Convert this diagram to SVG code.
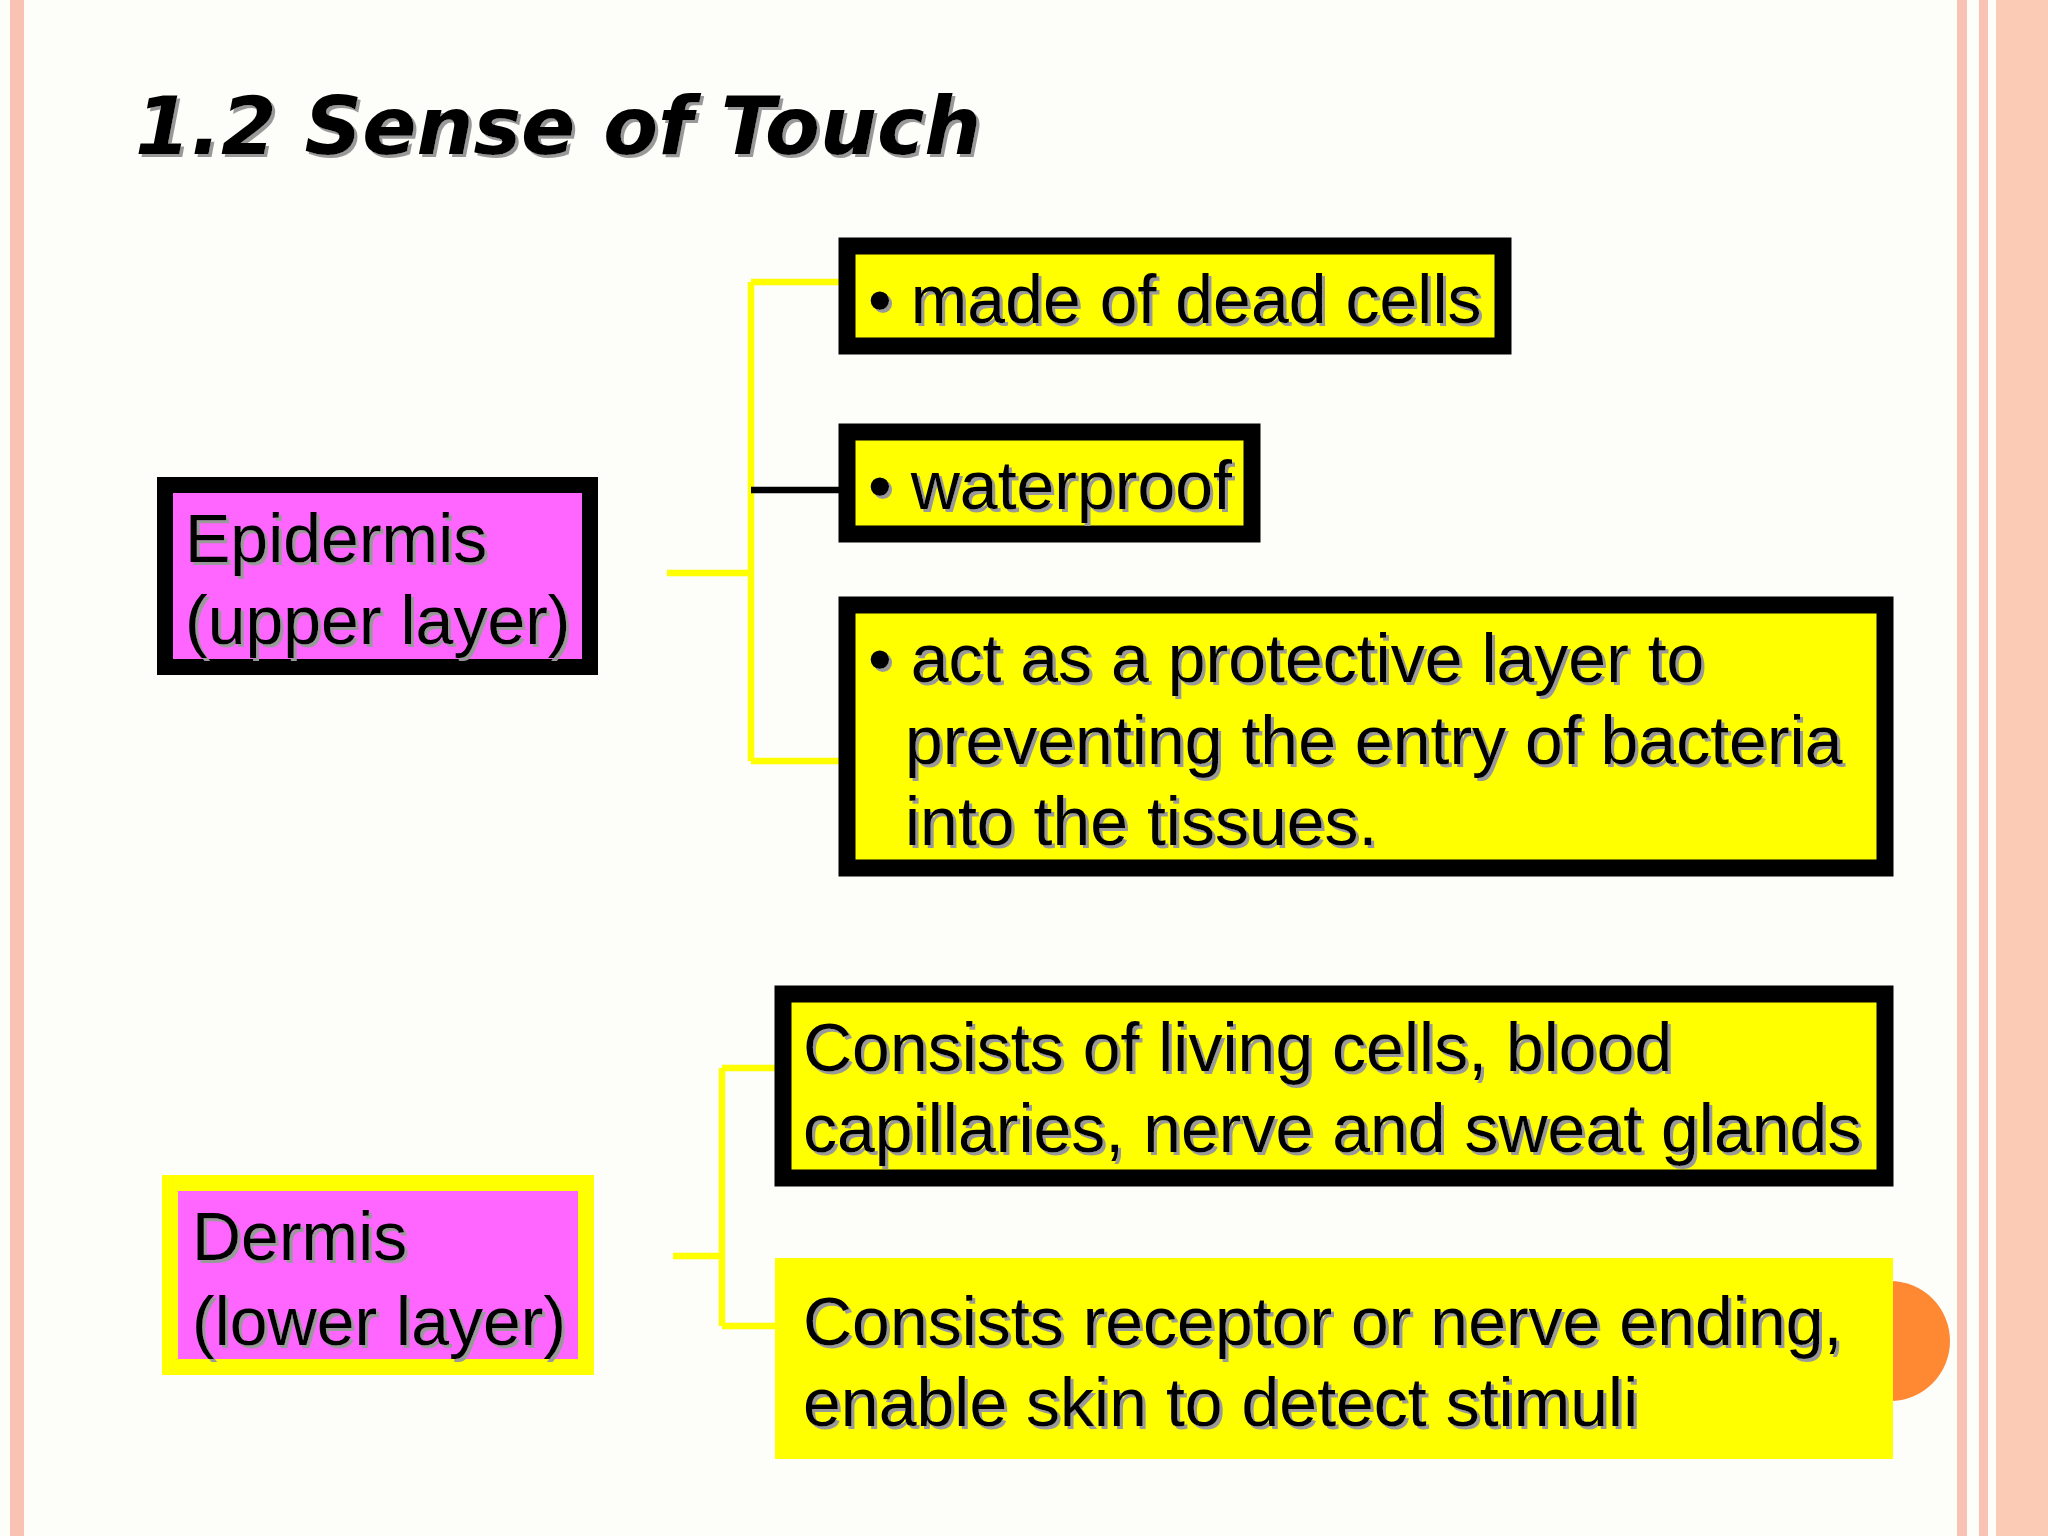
<svg xmlns="http://www.w3.org/2000/svg" width="2048" height="1536" viewBox="0 0 2048 1536">
<defs>
<filter id="sh" x="-5%" y="-20%" width="110%" height="140%"><feDropShadow dx="3" dy="3" stdDeviation="0.5" flood-color="#999"/></filter>
<style>
.t{font-family:"Liberation Sans",Arial,sans-serif;font-size:68px;fill:#000;filter:url(#sh)}
.c{stroke:#ffff00;stroke-width:6.5;fill:none}
.bx{fill:#ffff00;stroke:#000;stroke-width:17}
</style>
</defs>
<rect width="2048" height="1536" fill="#fdfdf9"/>
<rect x="10" y="0" width="14" height="1536" fill="#f9c3b3"/>
<rect x="1957" y="0" width="10" height="1536" fill="#f9c3b3"/>
<rect x="1979" y="0" width="9" height="1536" fill="#f9c3b3"/>
<rect x="1996" y="0" width="52" height="1536" fill="#fbcbb5"/>
<text x="135" y="154" font-family="Verdana,'DejaVu Sans',sans-serif" font-weight="bold" font-style="italic" font-size="80" filter="url(#sh)">1.2  Sense of Touch</text>
<g id="connectors">
<path class="c" d="M667 573H751M751 282V761M751 282H839M751 761H839"/>
<path d="M751 490H839" stroke="#000" stroke-width="6.5"/>
<path class="c" d="M673 1256H722M722 1068V1326M722 1068H775M722 1326H775"/>
</g>
<g id="epidermis"><rect x="165" y="485" width="425" height="182" fill="#ff66ff" stroke="#000" stroke-width="16"/>
<text class="t" x="185" y="562">Epidermis</text><text class="t" x="185" y="644">(upper layer)</text></g>
<g id="dead"><rect class="bx" x="847" y="246" width="656" height="100"/><text class="t" x="868" y="323">• made of dead cells</text></g>
<g id="waterproof"><rect class="bx" x="847" y="432" width="405" height="102"/><text class="t" x="868" y="509">• waterproof</text></g>
<g id="protective"><rect class="bx" x="847" y="605" width="1038" height="263"/>
<text class="t" x="868" y="682">• act as a protective layer to</text><text class="t" x="905" y="764">preventing the entry of bacteria</text><text class="t" x="905" y="845">into the tissues.</text></g>
<g id="dermis"><rect x="170" y="1183" width="416" height="184" fill="#ff66ff" stroke="#ffff00" stroke-width="16"/>
<text class="t" x="192" y="1260">Dermis</text><text class="t" x="192" y="1345">(lower layer)</text></g>
<g id="living"><rect class="bx" x="783" y="994" width="1102" height="184"/>
<text class="t" x="803" y="1071">Consists of living cells, blood</text><text class="t" x="803" y="1152">capillaries, nerve and sweat glands</text></g>
<circle cx="1890" cy="1341" r="60" fill="#ff8833"/>
<g id="receptor"><rect x="775" y="1258" width="1118" height="201" fill="#ffff00"/>
<text class="t" x="803" y="1345">Consists receptor or nerve ending,</text><text class="t" x="803" y="1426">enable skin to detect stimuli</text></g>
</svg>
